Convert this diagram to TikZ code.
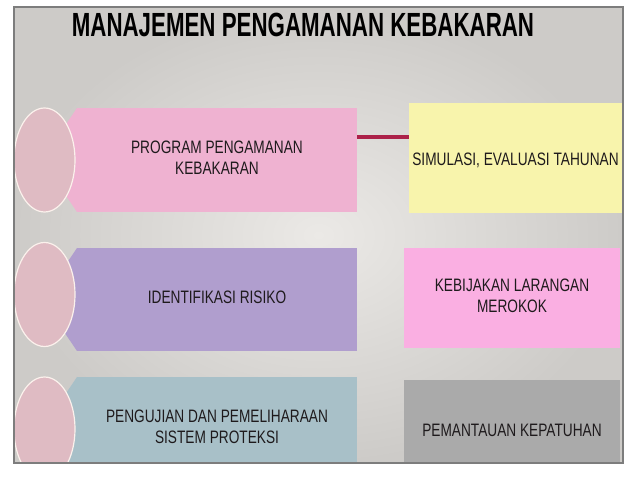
\documentclass[tikz,border=0pt]{standalone}
\usepackage{fontspec}
\setmainfont{Liberation Sans}
\usepackage{graphicx}
\usetikzlibrary{shapes.geometric}

\definecolor{bgin}{HTML}{EBE9E6}
\definecolor{bgout}{HTML}{CDCBC8}
\definecolor{rimgray}{HTML}{7D7D7D}
\definecolor{dotpink}{HTML}{DFBBC3}
\definecolor{dotrim}{HTML}{FBF1EC}
\definecolor{progpink}{HTML}{EFB2D1}
\definecolor{simyellow}{HTML}{F8F4AC}
\definecolor{riskpurple}{HTML}{B09ECE}
\definecolor{smokepink}{HTML}{FAAFE2}
\definecolor{testteal}{HTML}{A8C0C8}
\definecolor{watchgray}{HTML}{AAAAAA}
\definecolor{linkred}{HTML}{AC2149}
\definecolor{ink}{HTML}{1E1A1C}

\newcommand{\narrow}[1]{\scalebox{0.76}[1]{\begin{tabular}{@{}c@{}}#1\end{tabular}}}

\begin{document}
\begin{tikzpicture}[x=1pt, y=-1pt,
  dot/.style={ellipse, fill=dotpink, draw=dotrim, line width=1.2pt, minimum width=61pt, minimum height=104pt, inner sep=0pt},
  box/.style={rectangle, inner sep=0pt, text=ink, font=\fontsize{18}{20.5}\selectfont},
  link/.style={draw=linkred, line width=3.5pt}]

\fill[white] (0, 0) rectangle (638, 478);
\shade[inner color=bgin, outer color=bgout] (14, 7) rectangle (623, 463);

\node[anchor=base, font=\fontsize{33.5}{36}\selectfont\bfseries, text=black] (title) at (303, 37) {\scalebox{0.666}[1]{MANAJEMEN PENGAMANAN KEBAKARAN}};

\begin{scope}
\clip (14, 7) rectangle (623, 463);

\fill[progpink] (77, 108) -- (50, 148) -- (50, 172) -- (77, 212) -- cycle;
\node[box, fill=progpink, minimum width=280pt, minimum height=104pt] (prog) at (217, 160) {\narrow{PROGRAM PENGAMANAN\\KEBAKARAN}};
\node[dot] (dot1) at (44.5, 160) {};

\fill[riskpurple] (77, 248) -- (50, 288) -- (50, 311) -- (77, 351) -- cycle;
\node[box, fill=riskpurple, minimum width=280pt, minimum height=103pt] (risk) at (217, 299.5) {\narrow{IDENTIFIKASI RISIKO}};
\node[dot] (dot2) at (44.5, 294.5) {};

\fill[testteal] (77, 377) -- (50, 417) -- (50, 441) -- (77, 481) -- cycle;
\node[box, fill=testteal, minimum width=280pt, minimum height=104pt] (test) at (217, 429) {\narrow{PENGUJIAN DAN PEMELIHARAAN\\SISTEM PROTEKSI}};
\node[dot] (dot3) at (44.5, 429) {};

\node[box, fill=simyellow, minimum width=213pt, minimum height=110pt] (sim) at (515.5, 158) {\narrow{\raisebox{-3pt}{SIMULASI, EVALUASI TAHUNAN}}};
\node[box, fill=smokepink, minimum width=216pt, minimum height=100pt] (smoke) at (512, 298) {\narrow{KEBIJAKAN LARANGAN\\MEROKOK}};
\node[box, fill=watchgray, minimum width=216pt, minimum height=104pt] (watch) at (512, 432) {\narrow{PEMANTAUAN KEPATUHAN}};

\coordinate (tap) at ([yshift=23pt]prog.east);
\draw[link] (tap) -- (tap -| sim.west);
\end{scope}

\draw[rimgray, line width=1.3pt] (14, 7) rectangle (623, 463);

\end{tikzpicture}
\end{document}
